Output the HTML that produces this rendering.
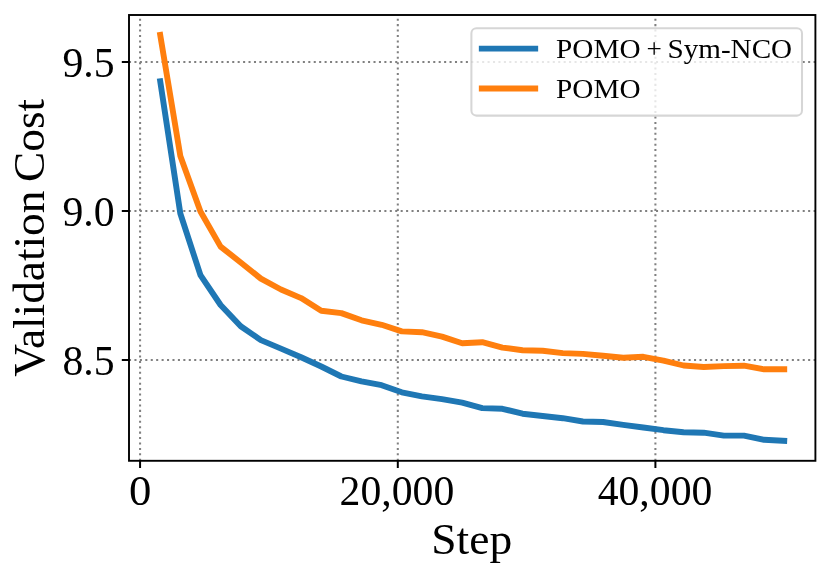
<!DOCTYPE html>
<html lang="en">
<head>
<meta charset="utf-8">
<title>Validation Cost vs Step</title>
<style>
html,body{margin:0;padding:0;background:#fff;}
body{width:830px;height:580px;overflow:hidden;}
</style>
</head>
<body>
<svg width="830" height="580" viewBox="0 0 830 580" style="display:block">
<rect x="0" y="0" width="830" height="580" fill="#ffffff"/>
<g stroke="#808080" stroke-width="2.05" stroke-dasharray="2.05 3.383" fill="none">
<line x1="140.07" y1="460.8" x2="140.07" y2="15.0"/>
<line x1="397.8" y1="460.8" x2="397.8" y2="15.0"/>
<line x1="655.4" y1="460.8" x2="655.4" y2="15.0"/>
<line x1="129.0" y1="62.0" x2="815.4" y2="62.0"/>
<line x1="129.0" y1="211.0" x2="815.4" y2="211.0"/>
<line x1="129.0" y1="360.0" x2="815.4" y2="360.0"/>
</g>
<g fill="none" stroke-width="5.9" stroke-linecap="square" stroke-linejoin="round">
<polyline stroke="#1f77b4" points="160.20,81.30 180.33,213.50 200.46,275.20 220.59,305.00 240.72,326.30 260.85,340.10 280.98,348.60 301.11,357.20 321.24,366.50 341.37,376.50 361.50,381.40 381.63,385.20 401.76,392.30 421.89,396.30 442.02,399.20 462.15,402.70 482.28,408.10 502.41,408.80 522.54,413.70 542.67,416.00 562.80,418.20 582.93,421.50 603.06,422.00 623.19,424.90 643.32,427.50 663.45,430.20 683.58,432.20 703.71,432.70 723.84,435.60 743.97,435.60 764.10,439.80 784.23,440.80"/>
<polyline stroke="#ff7f0e" points="160.20,34.90 180.33,156.00 200.46,211.50 220.59,246.60 240.72,262.50 260.85,278.60 280.98,289.50 301.11,298.10 321.24,310.70 341.37,313.10 361.50,320.30 381.63,324.80 401.76,331.40 421.89,332.20 442.02,336.60 462.15,343.20 482.28,342.20 502.41,347.60 522.54,350.20 542.67,350.80 562.80,353.10 582.93,353.90 603.06,355.80 623.19,357.80 643.32,356.80 663.45,360.60 683.58,365.50 703.71,367.00 723.84,366.10 743.97,365.70 764.10,369.30 784.23,369.30"/>
</g>
<g stroke="#000" stroke-width="2" fill="none">
<line x1="140.07" y1="460.8" x2="140.07" y2="468.0"/>
<line x1="397.8" y1="460.8" x2="397.8" y2="468.0"/>
<line x1="655.4" y1="460.8" x2="655.4" y2="468.0"/>
<line x1="129.0" y1="62.0" x2="121.8" y2="62.0"/>
<line x1="129.0" y1="211.0" x2="121.8" y2="211.0"/>
<line x1="129.0" y1="360.0" x2="121.8" y2="360.0"/>
</g>
<rect x="129.0" y="15.0" width="686.4" height="445.8" fill="none" stroke="#000" stroke-width="1.9" stroke-linejoin="miter"/>
<rect x="471.4" y="28.15" width="330.6" height="87.45" rx="5" ry="5" fill="#ffffff" fill-opacity="0.8" stroke="#cccccc" stroke-opacity="0.8" stroke-width="2.05"/>
<line x1="481.8" y1="48.6" x2="535.2" y2="48.6" stroke="#1f77b4" stroke-width="5.9" stroke-linecap="square"/>
<line x1="481.8" y1="88.5" x2="535.2" y2="88.5" stroke="#ff7f0e" stroke-width="5.9" stroke-linecap="square"/>
<g font-family="'Liberation Serif', 'DejaVu Serif', serif" fill="#000">
<text id="lg1" font-size="27.2" y="57.6"><tspan id="lg1a" x="556.0" textLength="84.5" lengthAdjust="spacingAndGlyphs">POMO</tspan><tspan id="lg1b" x="646.4">+</tspan><tspan id="lg1c" x="667.5" textLength="124.6" lengthAdjust="spacingAndGlyphs">Sym-NCO</tspan></text>
<text id="lg2" font-size="27.2" x="556.0" y="97.9" textLength="84.5" lengthAdjust="spacingAndGlyphs">POMO</text>
<text id="xt0" font-size="41.7" x="140.3" y="505.3" text-anchor="middle" textLength="22.4" lengthAdjust="spacingAndGlyphs">0</text>
<text id="xt1" font-size="41.7" x="396.9" y="505.3" text-anchor="middle">20,000</text>
<text id="xt2" font-size="41.7" x="655.0" y="505.3" text-anchor="middle">40,000</text>
<text id="yt0" font-size="41.7" x="114.5" y="76.7" text-anchor="end">9.5</text>
<text id="yt1" font-size="41.7" x="114.5" y="225.7" text-anchor="end">9.0</text>
<text id="yt2" font-size="41.7" x="114.5" y="374.7" text-anchor="end">8.5</text>
<text id="xl" font-size="43.6" x="471.7" y="553.6" text-anchor="middle" textLength="80.9" lengthAdjust="spacingAndGlyphs">Step</text>
<text id="yl" font-size="43.6" transform="translate(43.8 237.8) rotate(-90)" text-anchor="middle" textLength="278" lengthAdjust="spacingAndGlyphs" word-spacing="-2.5">Validation Cost</text>
</g>
</svg>
</body>
</html>
